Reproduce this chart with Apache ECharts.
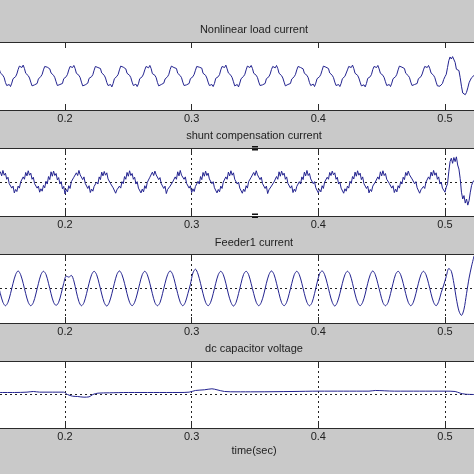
<!DOCTYPE html>
<html>
<head>
<meta charset="utf-8">
<title>scope</title>
<script src="https://cdn.jsdelivr.net/npm/echarts@6/dist/echarts.min.js"></script>
<style>
html, body { margin: 0; padding: 0; background: #c9c9c9; }
#main { width: 474px; height: 474px; }
</style>
</head>
<body>
<div id="main"></div>
<script>
// panel titles
var titles = ['Nonlinear load current', 'shunt compensation current', 'Feeder1 current', 'dc capacitor voltage'];
var xName = 'time(sec)';

// time axis (sec): visible window and tick values
var xMin = 0.1487, xMax = 0.5229;
var xTicks = [0.2, 0.3, 0.4, 0.5];

// nonlinear load current, sampled every 1 ms from t = 0.148
var loadT0 = 0.148, loadDt = 0.001;
var loadCurrent = [
  0.22, 0.09, 0.05, 0.02, -0.05, -0.19, -0.28, -0.31,
  -0.25, -0.31, -0.21, -0.08, -0.04, -0.02, 0.06, 0.19, 0.29, 0.31, 0.25, 0.32, 0.22, 0.08, 0.04, 0.01, -0.06, -0.18, -0.29, -0.31,
  -0.26, -0.31, -0.22, -0.09, -0.04, -0.01, 0.05, 0.18, 0.28, 0.30, 0.26, 0.31, 0.21, 0.09, 0.05, 0.02, -0.05, -0.17, -0.28, -0.30,
  -0.25, -0.30, -0.22, -0.08, -0.05, -0.02, 0.05, 0.18, 0.28, 0.32, 0.25, 0.31, 0.22, 0.08, 0.04, 0.02, -0.05, -0.18, -0.29, -0.32,
  -0.26, -0.31, -0.21, -0.07, -0.04, -0.02, 0.04, 0.17, 0.28, 0.31, 0.25, 0.30, 0.22, 0.09, 0.04, 0.02, -0.06, -0.19, -0.28, -0.31,
  -0.25, -0.32, -0.22, -0.08, -0.04, -0.01, 0.05, 0.18, 0.29, 0.31, 0.26, 0.31, 0.21, 0.08, 0.05, 0.02, -0.05, -0.18, -0.28, -0.31,
  -0.24, -0.31, -0.23, -0.08, -0.03, -0.02, 0.06, 0.18, 0.28, 0.31, 0.24, 0.31, 0.22, 0.07, 0.04, 0.02, -0.05, -0.19, -0.29, -0.31,
  -0.25, -0.30, -0.21, -0.09, -0.04, -0.02, 0.05, 0.19, 0.29, 0.32, 0.25, 0.30, 0.22, 0.08, 0.03, 0.01, -0.05, -0.18, -0.28, -0.32,
  -0.26, -0.31, -0.22, -0.08, -0.04, -0.02, 0.05, 0.17, 0.28, 0.31, 0.26, 0.31, 0.23, 0.08, 0.04, 0.02, -0.06, -0.18, -0.28, -0.30,
  -0.25, -0.31, -0.22, -0.07, -0.05, -0.02, 0.04, 0.18, 0.28, 0.30, 0.25, 0.32, 0.21, 0.09, 0.04, 0.02, -0.05, -0.17, -0.29, -0.31,
  -0.25, -0.32, -0.21, -0.08, -0.04, -0.01, 0.05, 0.18, 0.29, 0.31, 0.25, 0.31, 0.22, 0.08, 0.05, 0.02, -0.05, -0.18, -0.28, -0.31,
  -0.26, -0.31, -0.22, -0.08, -0.04, -0.02, 0.06, 0.19, 0.28, 0.31, 0.24, 0.31, 0.22, 0.08, 0.04, 0.01, -0.06, -0.18, -0.29, -0.31,
  -0.25, -0.30, -0.22, -0.09, -0.04, -0.02, 0.05, 0.18, 0.28, 0.32, 0.25, 0.30, 0.21, 0.08, 0.04, 0.02, -0.05, -0.19, -0.28, -0.32,
  -0.24, -0.31, -0.21, -0.08, -0.03, -0.02, 0.05, 0.17, 0.29, 0.31, 0.26, 0.31, 0.22, 0.09, 0.04, 0.02, -0.05, -0.18, -0.28, -0.31,
  -0.25, -0.31, -0.22, -0.08, -0.04, -0.01, 0.04, 0.18, 0.28, 0.30, 0.25, 0.32, 0.22, 0.08, 0.05, 0.02, -0.06, -0.18, -0.29, -0.31,
  -0.26, -0.32, -0.22, -0.07, -0.04, -0.02, 0.05, 0.19, 0.28, 0.31, 0.25, 0.31, 0.21, 0.08, 0.04, 0.02, -0.05, -0.17, -0.28, -0.30,
  -0.25, -0.31, -0.21, -0.08, -0.05, -0.02, 0.05, 0.18, 0.29, 0.31, 0.26, 0.31, 0.22, 0.08, 0.04, 0.01, -0.05, -0.18, -0.28, -0.31,
  -0.25, -0.30, -0.22, -0.08, -0.04, -0.02, 0.06, 0.18, 0.28, 0.32, 0.25, 0.31, 0.22, 0.09, 0.04, 0.02, -0.05, -0.18, -0.29, -0.31,
  -0.30, -0.33, -0.22, -0.10, -0.02, 0.05, 0.25, 0.45, 0.56, 0.50, 0.57, 0.52, 0.40, 0.20, 0.18, 0.16, -0.05, -0.30, -0.50, -0.45,
  -0.55, -0.48, -0.35, -0.20, -0.12, -0.05, 0.00, 0.02
];

// shunt compensation current, 1 ms samples from t = 0.148
var shuntT0 = 0.148, shuntDt = 0.001;
var shuntCurrent = [
  0.22, 0.30, 0.18, 0.34, 0.20, 0.26, 0.08, 0.14, -0.05, 0.00, -0.18, -0.12,
  -0.32, -0.22, -0.28, -0.12, -0.18, 0.00, -0.05, 0.15, 0.08, 0.28, 0.18, 0.33, 0.20, 0.26, 0.08, 0.14, -0.05, 0.00, -0.18, -0.12,
  -0.30, -0.20, -0.27, -0.10, -0.17, 0.02, -0.06, 0.16, 0.07, 0.30, 0.17, 0.32, 0.19, 0.25, 0.06, 0.13, -0.06, 0.01, -0.20, -0.13,
  -0.35, -0.22, -0.29, -0.11, -0.19, 0.01, -0.04, 0.14, 0.09, 0.27, 0.19, 0.34, 0.21, 0.24, 0.07, 0.15, -0.04, -0.01, -0.19, -0.11,
  -0.31, -0.21, -0.27, -0.13, -0.17, 0.00, -0.06, 0.15, 0.07, 0.29, 0.18, 0.31, 0.20, 0.27, 0.09, 0.13, -0.05, 0.00, -0.17, -0.12,
  -0.33, -0.23, -0.28, -0.12, -0.18, 0.01, -0.05, 0.16, 0.08, 0.28, 0.17, 0.33, 0.19, 0.25, 0.08, 0.14, -0.06, 0.01, -0.18, -0.13,
  -0.32, -0.21, -0.29, -0.11, -0.19, -0.01, -0.04, 0.14, 0.09, 0.29, 0.19, 0.32, 0.21, 0.26, 0.07, 0.13, -0.05, -0.01, -0.19, -0.12,
  -0.34, -0.22, -0.27, -0.12, -0.17, 0.00, -0.05, 0.15, 0.08, 0.30, 0.18, 0.34, 0.20, 0.25, 0.08, 0.15, -0.04, 0.00, -0.18, -0.11,
  -0.31, -0.20, -0.28, -0.13, -0.18, 0.02, -0.06, 0.16, 0.07, 0.28, 0.17, 0.32, 0.19, 0.26, 0.09, 0.14, -0.05, 0.01, -0.17, -0.12,
  -0.32, -0.22, -0.29, -0.12, -0.19, 0.00, -0.05, 0.15, 0.08, 0.29, 0.18, 0.33, 0.20, 0.27, 0.08, 0.13, -0.06, 0.00, -0.18, -0.13,
  -0.33, -0.21, -0.28, -0.11, -0.18, 0.01, -0.04, 0.14, 0.09, 0.28, 0.19, 0.33, 0.21, 0.25, 0.07, 0.14, -0.05, -0.01, -0.19, -0.12,
  -0.34, -0.23, -0.27, -0.12, -0.17, 0.00, -0.05, 0.16, 0.08, 0.30, 0.17, 0.32, 0.20, 0.26, 0.08, 0.15, -0.04, 0.00, -0.18, -0.11,
  -0.31, -0.21, -0.28, -0.13, -0.18, 0.01, -0.06, 0.15, 0.07, 0.29, 0.18, 0.34, 0.19, 0.25, 0.09, 0.13, -0.05, 0.01, -0.17, -0.12,
  -0.32, -0.22, -0.29, -0.11, -0.19, 0.00, -0.05, 0.14, 0.08, 0.28, 0.19, 0.32, 0.21, 0.27, 0.08, 0.14, -0.06, 0.00, -0.18, -0.13,
  -0.33, -0.20, -0.27, -0.12, -0.18, 0.02, -0.04, 0.16, 0.09, 0.29, 0.17, 0.33, 0.20, 0.26, 0.07, 0.15, -0.05, -0.01, -0.19, -0.12,
  -0.32, -0.22, -0.28, -0.12, -0.17, 0.00, -0.05, 0.15, 0.08, 0.30, 0.18, 0.33, 0.19, 0.25, 0.08, 0.13, -0.04, 0.00, -0.18, -0.11,
  -0.31, -0.21, -0.29, -0.11, -0.18, 0.01, -0.06, 0.14, 0.07, 0.28, 0.19, 0.32, 0.21, 0.26, 0.09, 0.14, -0.05, 0.01, -0.17, -0.12,
  -0.33, -0.23, -0.28, -0.13, -0.19, 0.00, -0.05, 0.15, 0.08, 0.29, 0.18, 0.34, 0.20, 0.27, 0.08, 0.15, -0.06, 0.00, -0.18, -0.13,
  -0.30, -0.15, -0.05, 0.30, 0.60, 0.70, 0.55, 0.72, 0.60, 0.74, 0.50, 0.38, 0.10, -0.30, -0.50, -0.40, -0.62, -0.50, -0.68, -0.55,
  -0.30, -0.10, 0.00, 0.05
];

// feeder 1 current, 2 ms samples from t = 0.147
var feederT0 = 0.147, feederDt = 0.002;
var feederCurrent = [
  0.15, -0.15, -0.40,
  -0.50, -0.40, -0.15, 0.15, 0.40, 0.51, 0.40, 0.15, -0.15, -0.40,
  -0.50, -0.41, -0.16, 0.14, 0.40, 0.50, 0.41, 0.15, -0.15, -0.40,
  -0.49, -0.40, -0.15, 0.15, 0.36, 0.33, 0.38, 0.22, -0.10, -0.38,
  -0.50, -0.41, -0.15, 0.15, 0.40, 0.50, 0.40, 0.14, -0.16, -0.41,
  -0.51, -0.40, -0.15, 0.15, 0.41, 0.51, 0.40, 0.15, -0.15, -0.40,
  -0.50, -0.40, -0.16, 0.14, 0.40, 0.50, 0.40, 0.15, -0.15, -0.41,
  -0.50, -0.41, -0.15, 0.15, 0.40, 0.51, 0.41, 0.15, -0.15, -0.40,
  -0.50, -0.40, -0.15, 0.12, 0.45, 0.56, 0.42, 0.15, -0.15, -0.40,
  -0.50, -0.40, -0.15, 0.15, 0.40, 0.50, 0.40, 0.15, -0.16, -0.40,
  -0.51, -0.41, -0.15, 0.15, 0.41, 0.50, 0.40, 0.14, -0.15, -0.40,
  -0.50, -0.40, -0.16, 0.15, 0.40, 0.51, 0.41, 0.15, -0.15, -0.41,
  -0.50, -0.40, -0.15, 0.14, 0.40, 0.50, 0.40, 0.15, -0.15, -0.40,
  -0.50, -0.41, -0.15, 0.16, 0.43, 0.51, 0.40, 0.15, -0.15, -0.40,
  -0.51, -0.40, -0.15, 0.15, 0.40, 0.50, 0.41, 0.15, -0.16, -0.40,
  -0.50, -0.40, -0.16, 0.15, 0.40, 0.51, 0.40, 0.14, -0.15, -0.41,
  -0.50, -0.41, -0.15, 0.15, 0.41, 0.50, 0.40, 0.15, -0.15, -0.40,
  -0.50, -0.40, -0.15, 0.15, 0.40, 0.50, 0.40, 0.15, -0.15, -0.40,
  -0.50, -0.38, -0.12, 0.10, 0.35, 0.58, 0.50, 0.15, -0.30, -0.65, -0.78, -0.60, -0.15, 0.30, 0.65, 0.95
];

// dc capacitor voltage (deviation)
var dcTime = [0.148, 0.16, 0.17, 0.175, 0.18, 0.19, 0.199, 0.202, 0.206, 0.21, 0.215, 0.219, 0.222, 0.226,
  0.235, 0.25, 0.27, 0.29, 0.298, 0.303, 0.31, 0.316, 0.32, 0.326, 0.335, 0.35, 0.38, 0.40, 0.42,
  0.44, 0.445, 0.46, 0.48, 0.50, 0.508, 0.512, 0.516, 0.523];
var dcVoltage = [0.06, 0.06, 0.07, 0.09, 0.07, 0.07, 0.07, 0.00, -0.05, -0.06, -0.08, -0.07, 0.00, 0.04,
  0.05, 0.06, 0.06, 0.06, 0.07, 0.12, 0.14, 0.17, 0.14, 0.09, 0.08, 0.08, 0.09, 0.10, 0.10,
  0.10, 0.12, 0.10, 0.10, 0.10, 0.09, 0.04, 0.01, 0.00];

function sampled(t0, dt, vals) {
  return vals.map(function(v, i) { return [+(t0 + i * dt).toFixed(4), v]; });
}

var seriesData = [
  sampled(loadT0, loadDt, loadCurrent),
  sampled(shuntT0, shuntDt, shuntCurrent),
  sampled(feederT0, feederDt, feederCurrent),
  dcTime.map(function(t, i) { return [t, dcVoltage[i]]; })
];

// layout of the four scope panels
var panelTop = [42, 148, 254, 361];
var panelHeight = [68, 68, 69, 67];
var titleTop = [24, 130, 237, 343];
var font = 'Liberation Sans, Arial, sans-serif';
var lineColor = '#23238f';
var axisColor = '#2b2b2b';
var textColor = '#222';

var grids = [], xAxes = [], yAxes = [], series = [], titleOpts = [];
for (var i = 0; i < 4; i++) {
  grids.push({
    left: 0, right: 0, top: panelTop[i], height: panelHeight[i],
    show: true, backgroundColor: '#fff', borderWidth: 0
  });
  // bottom axis: frame line, inner ticks, labels, dotted grid
  xAxes.push({
    type: 'value', gridIndex: i, position: 'bottom', min: xMin, max: xMax,
    axisLine: { show: true, onZero: false, lineStyle: { color: axisColor, width: 1 } },
    axisTick: { inside: true, length: 6, customValues: xTicks, lineStyle: { color: axisColor } },
    axisLabel: { margin: 3, fontSize: 11, color: textColor, fontFamily: font, customValues: xTicks,
      formatter: function(v) { return v.toFixed(1); } },
    splitLine: { show: i > 0, lineStyle: { color: '#222', type: [2, 3], width: 1 } }
  });
  // top axis: frame line and inner ticks only
  xAxes.push({
    type: 'value', gridIndex: i, position: 'top', min: xMin, max: xMax,
    axisLine: { show: true, onZero: false, lineStyle: { color: axisColor, width: 1 } },
    axisTick: { inside: true, length: 6, customValues: xTicks, lineStyle: { color: axisColor } },
    axisLabel: { show: false },
    splitLine: { show: false }
  });
  yAxes.push({
    type: 'value', gridIndex: i, min: -1, max: 1, interval: 1,
    axisLine: { show: false }, axisTick: { show: false }, axisLabel: { show: false },
    splitLine: { show: i > 0, lineStyle: { color: '#222', type: [2, 3], width: 1 } }
  });
  series.push({
    type: 'line', xAxisIndex: i * 2, yAxisIndex: i,
    data: seriesData[i], showSymbol: false, clip: true,
    smooth: i >= 2 ? 0.3 : false,
    lineStyle: { color: lineColor, width: 1 }
  });
  titleOpts.push({
    text: titles[i], left: 254, top: titleTop[i], textAlign: 'center', padding: 0,
    textStyle: { fontSize: 11, fontWeight: 'normal', color: textColor, fontFamily: font }
  });
}
titleOpts.push({
  text: xName, left: 254, top: 445, textAlign: 'center', padding: 0,
  textStyle: { fontSize: 11, fontWeight: 'normal', color: textColor, fontFamily: font }
});

var chart = echarts.init(document.getElementById('main'));
chart.setOption({
  backgroundColor: '#c9c9c9',
  animation: false,
  title: titleOpts,
  grid: grids,
  xAxis: xAxes,
  yAxis: yAxes,
  series: series,
  // small "=" markers on the shunt current panel
  graphic: [
    { type: 'rect', shape: { x: 252, y: 146, width: 6, height: 1.5 }, style: { fill: '#111' } },
    { type: 'rect', shape: { x: 252, y: 149, width: 6, height: 1.5 }, style: { fill: '#111' } },
    { type: 'rect', shape: { x: 252, y: 213.5, width: 6, height: 1.5 }, style: { fill: '#111' } },
    { type: 'rect', shape: { x: 252, y: 216.5, width: 6, height: 1.5 }, style: { fill: '#111' } }
  ]
});
</script>
</body>
</html>
